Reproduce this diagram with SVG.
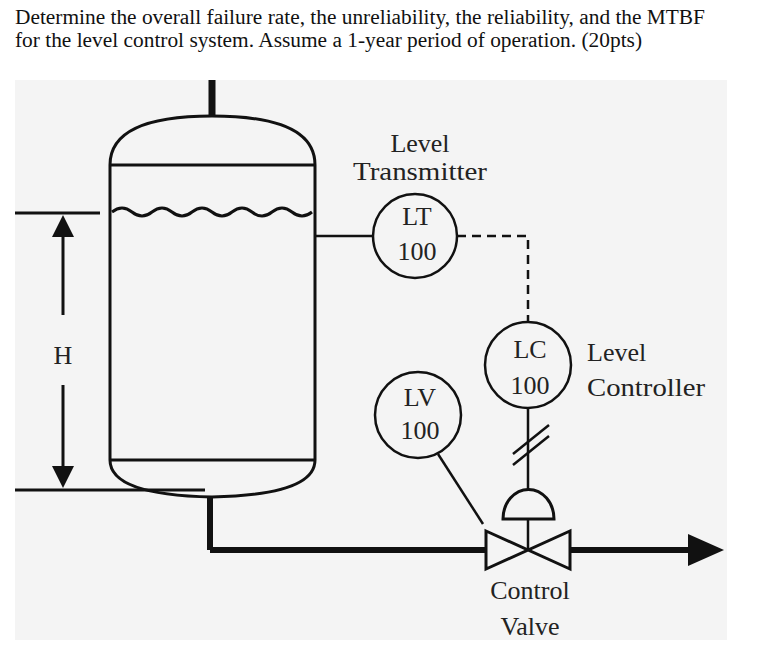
<svg xmlns="http://www.w3.org/2000/svg" width="774" height="658" viewBox="0 0 774 658">
<style>
.t{font-family:"Liberation Serif",serif;font-size:26px;fill:#222}
.h{font-family:"Liberation Serif",serif;font-size:20px;fill:#111}
.s{fill:none;stroke:#111;stroke-width:3}
.c{fill:none;stroke:#111;stroke-width:2.5}
</style>
<rect width="774" height="658" fill="#fff"/>
<text class="h" x="15" y="24" textLength="690" lengthAdjust="spacingAndGlyphs">Determine the overall failure rate, the unreliability, the reliability, and the MTBF</text>
<text class="h" x="15" y="47" textLength="627" lengthAdjust="spacingAndGlyphs">for the level control system. Assume a 1-year period of operation. (20pts)</text>
<rect x="15" y="80" width="712" height="560" fill="#f4f4f4"/>
<g id="tank">
<line x1="212" y1="80" x2="212" y2="116" stroke="#111" stroke-width="7"/>
<path class="s" d="M110,165 Q110,116 212,116 Q315,116 315,165 L315,460 Q315,495 212,497 Q110,495 110,460 Z"/>
<line class="s" x1="110" y1="165" x2="315" y2="165"/>
<line class="s" x1="110" y1="460" x2="315" y2="460"/>
<path class="s" d="M112,212 q10,-8 20,0 t20,0 t20,0 t20,0 t20,0 t20,0 t20,0 t20,0 t20,0 t20,0"/>
<line x1="210" y1="497" x2="210" y2="550" stroke="#111" stroke-width="6"/>
</g>
<g id="height">
<line class="s" x1="15" y1="213" x2="100" y2="213"/>
<line class="s" x1="15" y1="490" x2="205" y2="490"/>
<line class="s" x1="63" y1="235" x2="63" y2="315"/>
<path d="M52,237 L63,215 L74,237 Z" fill="#111"/>
<line class="s" x1="63" y1="385" x2="63" y2="468"/>
<path d="M52,466 L63,488 L74,466 Z" fill="#111"/>
<text class="t" x="63" y="364" text-anchor="middle">H</text>
</g>
<g id="LT">
<circle class="c" cx="415" cy="236" r="42"/>
<text class="t" x="417" y="225" text-anchor="middle">LT</text>
<text class="t" x="417" y="260" text-anchor="middle">100</text>
<text class="t" x="420" y="152" text-anchor="middle">Level</text>
<text class="t" x="420" y="180" text-anchor="middle" textLength="134" lengthAdjust="spacingAndGlyphs">Transmitter</text>
</g>
<g id="LC">
<circle class="c" cx="528" cy="365" r="43"/>
<text class="t" x="530" y="358" text-anchor="middle">LC</text>
<text class="t" x="530" y="394" text-anchor="middle">100</text>
<text class="t" x="587" y="361">Level</text>
<text class="t" x="587" y="396" textLength="118" lengthAdjust="spacingAndGlyphs">Controller</text>
</g>
<g id="LV">
<circle class="c" cx="418" cy="415" r="43"/>
<text class="t" x="420" y="406" text-anchor="middle">LV</text>
<text class="t" x="420" y="439" text-anchor="middle">100</text>
</g>
<g id="valve">
<path class="s" d="M503,519 A25,29 0 0 1 554,519 Z"/>
<line class="c" x1="528" y1="519" x2="528" y2="550"/>
<path class="s" d="M486,531 L570,569 L570,531 L486,569 Z"/>
<text class="t" x="530" y="599" text-anchor="middle">Control</text>
<text class="t" x="530" y="635" text-anchor="middle">Valve</text>
</g>
<g id="connectors">
<line class="c" x1="315" y1="236" x2="373" y2="236"/>
<path d="M457,236 L528,236 L528,322" fill="none" stroke="#111" stroke-width="2.5" stroke-dasharray="9,6"/>
<line class="c" x1="528" y1="408" x2="528" y2="490"/>
<line class="c" x1="513" y1="454" x2="549" y2="425"/>
<line class="c" x1="513" y1="465" x2="549" y2="436"/>
<line class="c" x1="438" y1="454" x2="483" y2="524"/>
<line x1="210" y1="550" x2="486" y2="550" stroke="#111" stroke-width="6"/>
<line x1="570" y1="550" x2="690" y2="550" stroke="#111" stroke-width="6"/>
<path d="M688,534 L724,550 L688,566 Z" fill="#111"/>
</g>
</svg>
